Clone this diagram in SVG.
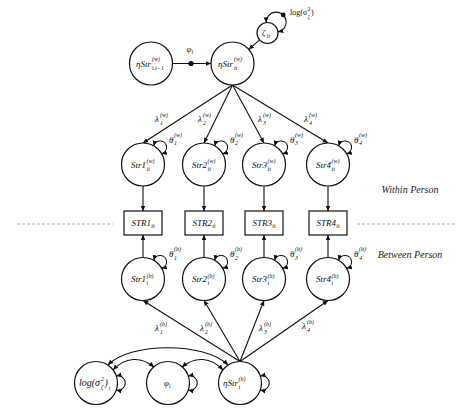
<svg xmlns="http://www.w3.org/2000/svg" width="474" height="413" viewBox="0 0 474 413">
<style>
.n{fill:#fff;stroke:#111;stroke-width:1.2}
.b{fill:#fff;stroke:#111;stroke-width:1.2}
.e{fill:none;stroke:#111;stroke-width:1.1}
.a{marker-end:url(#ah)}
.d{marker-start:url(#ah);marker-end:url(#ah)}
.t{font-family:"Liberation Serif","DejaVu Serif",serif;font-style:italic;font-size:9px;fill:#111}
.u{font-family:"Liberation Serif","DejaVu Serif",serif;font-size:8px;fill:#111}
.s{font-size:6px}
.lab{font-family:"Liberation Serif","DejaVu Serif",serif;font-style:italic;font-size:10px;fill:#222;text-anchor:middle}
.dash{stroke:#999;stroke-width:0.8;stroke-dasharray:3 2;fill:none}
</style>
<defs>
<marker id="ah" viewBox="0 0 10 10" refX="9.5" refY="5" markerWidth="5.5" markerHeight="5.5" markerUnits="userSpaceOnUse" orient="auto-start-reverse">
<path d="M0,0.8 L10,5 L0,9.2 Z" fill="#111"/>
</marker>
</defs>

<g id="connectors">
<!-- top -->
<line class="e a" x1="173" y1="63.5" x2="211" y2="63.5"/>
<circle cx="191" cy="63.5" r="2.6" fill="#111"/>
<line class="e a" x1="259.6" y1="39.9" x2="248.7" y2="49.4"/>
<path class="e d" d="M266.2 22.6 A10 10 0 1 1 278.2 31.9"/>
<circle cx="283.2" cy="14.9" r="2.4" fill="#111"/>
<!-- loadings within -->
<line class="e a" x1="232.5" y1="85" x2="143" y2="143"/>
<line class="e a" x1="232.5" y1="85" x2="204" y2="143"/>
<line class="e a" x1="232.5" y1="85" x2="264" y2="143"/>
<line class="e a" x1="232.5" y1="85" x2="328" y2="143"/>
<!-- within residual loops -->
<path class="e d" d="M153.75 145.9 A6.5 6.5 0 1 1 161.6 153.75"/>
<path class="e d" d="M214.75 145.9 A6.5 6.5 0 1 1 222.6 153.75"/>
<path class="e d" d="M274.75 145.9 A6.5 6.5 0 1 1 282.6 153.75"/>
<path class="e d" d="M338.75 145.9 A6.5 6.5 0 1 1 346.6 153.75"/>
<!-- within to indicators -->
<line class="e a" x1="143" y1="186" x2="143" y2="211"/>
<line class="e a" x1="204" y1="186" x2="204" y2="211"/>
<line class="e a" x1="264" y1="186" x2="264" y2="211"/>
<line class="e a" x1="328" y1="186" x2="328" y2="211"/>
<!-- between to indicators -->
<line class="e a" x1="143" y1="257.5" x2="143" y2="235"/>
<line class="e a" x1="204" y1="257.5" x2="204" y2="235"/>
<line class="e a" x1="264" y1="257.5" x2="264" y2="235"/>
<line class="e a" x1="328" y1="257.5" x2="328" y2="235"/>
<!-- between residual loops -->
<path class="e d" d="M153.75 260.4 A6.5 6.5 0 1 1 161.6 268.25"/>
<path class="e d" d="M214.75 260.4 A6.5 6.5 0 1 1 222.6 268.25"/>
<path class="e d" d="M274.75 260.4 A6.5 6.5 0 1 1 282.6 268.25"/>
<path class="e d" d="M338.75 260.4 A6.5 6.5 0 1 1 346.6 268.25"/>
<!-- loadings between -->
<line class="e a" x1="240" y1="361.5" x2="143" y2="300.5"/>
<line class="e a" x1="240" y1="361.5" x2="204" y2="300.5"/>
<line class="e a" x1="240" y1="361.5" x2="264" y2="300.5"/>
<line class="e a" x1="240" y1="361.5" x2="328" y2="300.5"/>
<!-- covariances -->
<path class="e d" d="M108 365 C130 342 205 342 228 365"/>
<path class="e d" d="M113 370 C125 357 141 356 154 367"/>
<path class="e d" d="M182 367 C195 356 211 357 223 370"/>
<!-- bottom loops -->
<path class="e d" d="M116.4 376 A7.2 7.2 0 1 1 116.4 390"/>
<path class="e d" d="M188.4 376 A7.2 7.2 0 1 1 188.4 390"/>
<path class="e d" d="M260.4 376 A7.2 7.2 0 1 1 260.4 390"/>
<!-- dashed separators -->
<line class="dash" x1="17" y1="224" x2="113" y2="224"/>
<line class="dash" x1="357" y1="224" x2="457" y2="224"/>
</g>

<g id="labels">
<text class="t" x="186.5" y="52">φ</text><text class="t s" x="191.5" y="54">i</text>
<text class="u" x="290" y="15">log(σ</text><text class="u s" x="307.5" y="11">2</text><text class="u s" x="307.5" y="18.5">ζ</text><text class="u" x="311" y="15">)</text>
<text class="t" x="155" y="122">λ</text><text class="t s" x="160" y="117">(w)</text><text class="t s" x="160" y="125">1</text>
<text class="t" x="198" y="122">λ</text><text class="t s" x="203" y="117">(w)</text><text class="t s" x="203" y="125">2</text>
<text class="t" x="258" y="122">λ</text><text class="t s" x="263" y="117">(w)</text><text class="t s" x="263" y="125">3</text>
<text class="t" x="304" y="122">λ</text><text class="t s" x="309" y="117">(w)</text><text class="t s" x="309" y="125">4</text>
<text class="t" x="169" y="142.5">θ</text><text class="t s" x="174" y="136.5">(w)</text><text class="t s" x="174" y="145">1</text>
<text class="t" x="230" y="142.5">θ</text><text class="t s" x="235" y="136.5">(w)</text><text class="t s" x="235" y="145">2</text>
<text class="t" x="290" y="142.5">θ</text><text class="t s" x="295" y="136.5">(w)</text><text class="t s" x="295" y="145">3</text>
<text class="t" x="354" y="142.5">θ</text><text class="t s" x="359" y="136.5">(w)</text><text class="t s" x="359" y="145">4</text>
<text class="t" x="169" y="257">θ</text><text class="t s" x="174" y="251">(b)</text><text class="t s" x="174" y="259.5">1</text>
<text class="t" x="230" y="257">θ</text><text class="t s" x="235" y="251">(b)</text><text class="t s" x="235" y="259.5">2</text>
<text class="t" x="290" y="257">θ</text><text class="t s" x="295" y="251">(b)</text><text class="t s" x="295" y="259.5">3</text>
<text class="t" x="354" y="257">θ</text><text class="t s" x="359" y="251">(b)</text><text class="t s" x="359" y="259.5">4</text>
<text class="t" x="155" y="331">λ</text><text class="t s" x="160" y="326">(b)</text><text class="t s" x="160" y="334">1</text>
<text class="t" x="200" y="331">λ</text><text class="t s" x="205" y="326">(b)</text><text class="t s" x="205" y="334">2</text>
<text class="t" x="259" y="331">λ</text><text class="t s" x="264" y="326">(b)</text><text class="t s" x="264" y="334">3</text>
<text class="t" x="302" y="329">λ</text><text class="t s" x="307" y="324">(b)</text><text class="t s" x="307" y="332">4</text>
<text class="lab" x="410" y="193">Within Person</text>
<text class="lab" x="410" y="258">Between Person</text>
</g>

<g id="eta_prev">
<circle class="n" cx="151" cy="63.5" r="21.5"/>
<text class="t" x="136" y="66.5">ηStr</text><text class="t s" x="152" y="61">(w)</text><text class="t s" x="152" y="70">i,t−1</text>
</g>
<g id="eta_w">
<circle class="n" cx="232.5" cy="63.5" r="21.5"/>
<text class="t" x="218" y="66.5">ηStr</text><text class="t s" x="234" y="61">(w)</text><text class="t s" x="234" y="70">it</text>
</g>
<g id="zeta">
<circle class="n" cx="267.5" cy="33" r="10.5"/>
<text class="t" x="262" y="36" style="font-size:8px">ζ</text><text class="t s" x="266.5" y="38">it</text>
</g>

<g id="str1w"><circle class="n" cx="143" cy="164.5" r="21.5"/><text class="t" x="131" y="167.5">Str1</text><text class="t s" x="146.5" y="163">(w)</text><text class="t s" x="146.5" y="170.5">it</text></g>
<g id="str2w"><circle class="n" cx="204" cy="164.5" r="21.5"/><text class="t" x="192" y="167.5">Str2</text><text class="t s" x="207.5" y="163">(w)</text><text class="t s" x="207.5" y="170.5">it</text></g>
<g id="str3w"><circle class="n" cx="264" cy="164.5" r="21.5"/><text class="t" x="252" y="167.5">Str3</text><text class="t s" x="267.5" y="163">(w)</text><text class="t s" x="267.5" y="170.5">it</text></g>
<g id="str4w"><circle class="n" cx="328" cy="164.5" r="21.5"/><text class="t" x="316" y="167.5">Str4</text><text class="t s" x="331.5" y="163">(w)</text><text class="t s" x="331.5" y="170.5">it</text></g>

<g id="STR1"><rect class="b" x="124" y="211" width="38" height="24"/><text class="t" x="131.6" y="226">STR1</text><text class="t s" x="151.3" y="228">it</text></g>
<g id="STR2"><rect class="b" x="185" y="211" width="38" height="24"/><text class="t" x="192.6" y="226">STR2</text><text class="t s" x="212.3" y="228">it</text></g>
<g id="STR3"><rect class="b" x="245" y="211" width="38" height="24"/><text class="t" x="252.6" y="226">STR3</text><text class="t s" x="272.3" y="228">it</text></g>
<g id="STR4"><rect class="b" x="309" y="211" width="38" height="24"/><text class="t" x="316.6" y="226">STR4</text><text class="t s" x="336.3" y="228">it</text></g>

<g id="str1b"><circle class="n" cx="143" cy="279" r="21.5"/><text class="t" x="131" y="282">Str1</text><text class="t s" x="146.5" y="277.5">(b)</text><text class="t s" x="146.5" y="285">i</text></g>
<g id="str2b"><circle class="n" cx="204" cy="279" r="21.5"/><text class="t" x="192" y="282">Str2</text><text class="t s" x="207.5" y="277.5">(b)</text><text class="t s" x="207.5" y="285">i</text></g>
<g id="str3b"><circle class="n" cx="264" cy="279" r="21.5"/><text class="t" x="252" y="282">Str3</text><text class="t s" x="267.5" y="277.5">(b)</text><text class="t s" x="267.5" y="285">i</text></g>
<g id="str4b"><circle class="n" cx="328" cy="279" r="21.5"/><text class="t" x="316" y="282">Str4</text><text class="t s" x="331.5" y="277.5">(b)</text><text class="t s" x="331.5" y="285">i</text></g>

<g id="logvar">
<circle class="n" cx="96" cy="383" r="21.5"/>
<text class="t" x="79" y="386" style="font-size:10px">log(σ</text><text class="t s" x="101" y="381">2</text><text class="t s" x="101" y="389">ζ</text><text class="t" x="104.5" y="386" style="font-size:10px">)</text><text class="t s" x="108.5" y="390">i</text>
</g>
<g id="phi">
<circle class="n" cx="168" cy="383" r="21.5"/>
<text class="t" x="164" y="386">φ</text><text class="t s" x="169" y="388">i</text>
</g>
<g id="eta_b">
<circle class="n" cx="240" cy="383" r="21.5"/>
<text class="t" x="223" y="386">ηStr</text><text class="t s" x="238.5" y="381">(b)</text><text class="t s" x="238.5" y="389">i</text>
</g>
</svg>
